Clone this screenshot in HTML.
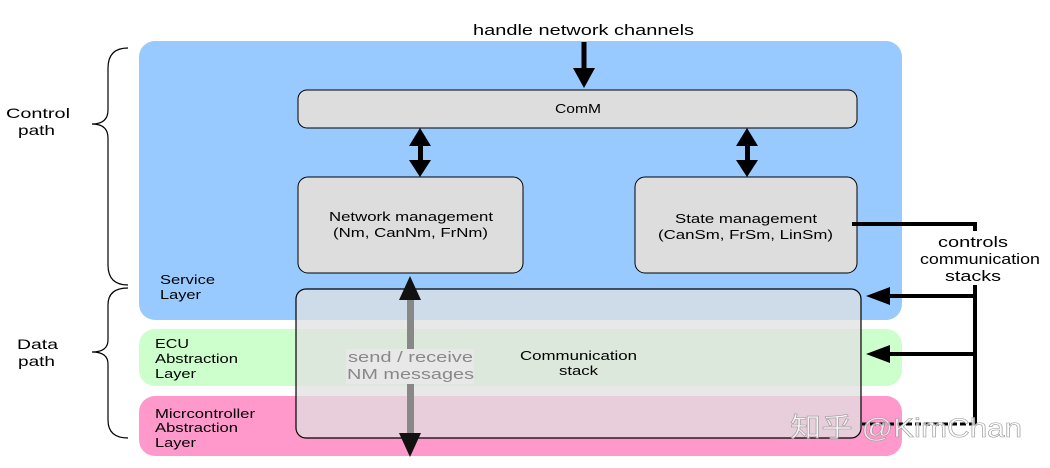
<!DOCTYPE html>
<html><head><style>body{margin:0;background:#fff}svg{display:block}text{font-family:"Liberation Sans",sans-serif}</style></head><body>
<svg width="1050" height="468" viewBox="0 0 1050 468">
<rect x="139" y="41" width="763" height="279" rx="16" fill="#99caff"/>
<rect x="139" y="329" width="763" height="57" rx="16" fill="#ccffcc"/>
<rect x="139" y="396" width="763" height="60" rx="16" fill="#ff99cc"/>
<rect x="296" y="289" width="565" height="149" rx="10" fill="#e0e0e0" fill-opacity="0.75" stroke="#000" stroke-width="1.2"/>
<rect x="298" y="90" width="559" height="38" rx="9" fill="#ddd" stroke="#000" stroke-width="1"/>
<rect x="298" y="177" width="225" height="96" rx="10" fill="#ddd" stroke="#000" stroke-width="1"/>
<rect x="635" y="177" width="222" height="96" rx="10" fill="#ddd" stroke="#000" stroke-width="1"/>
<g font-size="13" fill="#000">
<text x="555" y="113" textLength="46" lengthAdjust="spacingAndGlyphs">ComM</text>
<text x="329" y="221" textLength="164" lengthAdjust="spacingAndGlyphs">Network management</text>
<text x="333" y="237" textLength="155" lengthAdjust="spacingAndGlyphs">(Nm, CanNm, FrNm)</text>
<text x="675" y="223" textLength="142" lengthAdjust="spacingAndGlyphs">State management</text>
<text x="658" y="239" textLength="175" lengthAdjust="spacingAndGlyphs">(CanSm, FrSm, LinSm)</text>
<text x="520" y="360" textLength="117" lengthAdjust="spacingAndGlyphs">Communication</text>
<text x="559" y="375" textLength="39" lengthAdjust="spacingAndGlyphs">stack</text>
<text x="473" y="35" font-size="15" textLength="221" lengthAdjust="spacingAndGlyphs">handle network channels</text>
<text x="160" y="284" textLength="55" lengthAdjust="spacingAndGlyphs">Service</text>
<text x="160" y="299" textLength="41" lengthAdjust="spacingAndGlyphs">Layer</text>
<text x="155" y="348" textLength="34" lengthAdjust="spacingAndGlyphs">ECU</text>
<text x="155" y="363" textLength="83" lengthAdjust="spacingAndGlyphs">Abstraction</text>
<text x="155" y="378" textLength="41" lengthAdjust="spacingAndGlyphs">Layer</text>
<text x="155" y="418" textLength="100" lengthAdjust="spacingAndGlyphs">Micrcontroller</text>
<text x="155" y="432" textLength="83" lengthAdjust="spacingAndGlyphs">Abstraction</text>
<text x="155" y="447" textLength="41" lengthAdjust="spacingAndGlyphs">Layer</text>
<text x="6" y="118" font-size="14" textLength="64" lengthAdjust="spacingAndGlyphs">Control</text>
<text x="18" y="135" font-size="14" textLength="37" lengthAdjust="spacingAndGlyphs">path</text>
<text x="17" y="349" font-size="14" textLength="41" lengthAdjust="spacingAndGlyphs">Data</text>
<text x="18" y="366" font-size="14" textLength="37" lengthAdjust="spacingAndGlyphs">path</text>
</g>
<path d="M128,48 Q108,48 108,68 L108,110 Q108,124 92,124 Q108,124 108,138 L108,265 Q108,285 128,285" fill="none" stroke="#000" stroke-width="1.2"/>
<path d="M128,288 Q108,288 108,305 L108,340 Q108,352 92,352 Q108,352 108,364 L108,420 Q108,438 128,438" fill="none" stroke="#000" stroke-width="1.2"/>
<line x1="584" y1="42" x2="584" y2="74" stroke="#000" stroke-width="5"/>
<path d="M573,68 L595,68 L584,88z" fill="#000"/>
<g fill="#000">
<rect x="418" y="143" width="5" height="22"/><path d="M409,146 L431,146 L420,128z"/><path d="M409,160 L431,160 L420,177z"/>
<rect x="745" y="143" width="5" height="22"/><path d="M736,146 L758,146 L747,128z"/><path d="M736,160 L758,160 L747,177z"/>
</g>
<rect x="407" y="296" width="7" height="140" fill="#888"/>
<path d="M399,300 L421,300 L410,276z" fill="#111"/>
<path d="M399,433 L421,433 L410,457z" fill="#111"/>
<rect x="346" y="349" width="128" height="35" fill="#e8e8e8"/>
<g font-size="15" fill="#888">
<text x="348" y="362" textLength="125" lengthAdjust="spacingAndGlyphs">send / receive</text>
<text x="347" y="379" textLength="127" lengthAdjust="spacingAndGlyphs">NM messages</text>
</g>
<polyline points="852,224 975,224 975,425" fill="none" stroke="#000" stroke-width="4"/>
<line x1="975" y1="296" x2="885" y2="296" stroke="#000" stroke-width="4"/>
<path d="M890,287 L890,305 L866,296z" fill="#000"/>
<line x1="975" y1="354" x2="885" y2="354" stroke="#000" stroke-width="4"/>
<path d="M890,345 L890,363 L866,354z" fill="#000"/>
<line x1="975" y1="424" x2="862" y2="424" stroke="#000" stroke-width="3" stroke-dasharray="6,3"/>
<rect x="918" y="231" width="125" height="54" fill="#fff"/>
<g font-size="15" fill="#000">
<text x="938" y="247" textLength="70" lengthAdjust="spacingAndGlyphs">controls</text>
<text x="920" y="264" textLength="120" lengthAdjust="spacingAndGlyphs">communication</text>
<text x="945" y="281" textLength="56" lengthAdjust="spacingAndGlyphs">stacks</text>
</g>
<text x="790" y="437" font-size="27" fill="#fff" fill-opacity="0.75" stroke="#999" stroke-width="0.6" textLength="232" lengthAdjust="spacingAndGlyphs" style="font-family:'Liberation Sans','Noto Sans CJK SC',sans-serif">知乎 @KimChan</text>
</svg>
</body></html>
